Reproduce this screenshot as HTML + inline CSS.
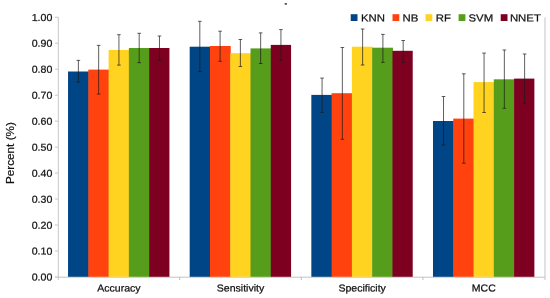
<!DOCTYPE html>
<html><head><meta charset="utf-8"><title>Chart</title>
<style>html,body{margin:0;padding:0;background:#fff}svg{display:block}text{font-family:"Liberation Sans",Arial,sans-serif;fill:#111;stroke:#111;stroke-width:0.25px}</style></head><body>
<svg width="550" height="298" viewBox="0 0 550 298">
<rect width="550" height="298" fill="#fff"/>
<g stroke="#d2d2d2" stroke-width="1.3" fill="none">
<line x1="58.4" y1="17.3" x2="58.4" y2="280.0"/>
<line x1="545.0" y1="17.3" x2="545.0" y2="280.0"/>
<line x1="55.0" y1="277.2" x2="544.9" y2="277.2" stroke="#bcbcbc" stroke-width="0.9"/>
<line x1="55.0" y1="17.30" x2="58.4" y2="17.30"/>
<line x1="55.0" y1="43.27" x2="58.4" y2="43.27"/>
<line x1="55.0" y1="69.24" x2="58.4" y2="69.24"/>
<line x1="55.0" y1="95.21" x2="58.4" y2="95.21"/>
<line x1="55.0" y1="121.18" x2="58.4" y2="121.18"/>
<line x1="55.0" y1="147.15" x2="58.4" y2="147.15"/>
<line x1="55.0" y1="173.12" x2="58.4" y2="173.12"/>
<line x1="55.0" y1="199.09" x2="58.4" y2="199.09"/>
<line x1="55.0" y1="225.06" x2="58.4" y2="225.06"/>
<line x1="55.0" y1="251.03" x2="58.4" y2="251.03"/>
<line x1="55.0" y1="277.00" x2="58.4" y2="277.00"/>
<line x1="179.65" y1="277.0" x2="179.65" y2="280.0" stroke="#bdbdbd" stroke-width="1"/>
<line x1="301.30" y1="277.0" x2="301.30" y2="280.0" stroke="#bdbdbd" stroke-width="1"/>
<line x1="422.95" y1="277.0" x2="422.95" y2="280.0" stroke="#bdbdbd" stroke-width="1"/>
</g>
<rect x="68.04" y="71.5" width="20.78" height="205.30" fill="#004586"/>
<rect x="88.31" y="69.6" width="20.78" height="207.20" fill="#FF420E"/>
<rect x="108.59" y="50.0" width="20.78" height="226.80" fill="#FFD320"/>
<rect x="128.86" y="48.0" width="20.78" height="228.80" fill="#579D1C"/>
<rect x="149.14" y="48.0" width="20.28" height="228.80" fill="#7E0021"/>
<rect x="189.69" y="46.7" width="20.78" height="230.10" fill="#004586"/>
<rect x="209.96" y="46.0" width="20.78" height="230.80" fill="#FF420E"/>
<rect x="230.24" y="53.2" width="20.78" height="223.60" fill="#FFD320"/>
<rect x="250.51" y="48.4" width="20.78" height="228.40" fill="#579D1C"/>
<rect x="270.79" y="44.9" width="20.28" height="231.90" fill="#7E0021"/>
<rect x="311.34" y="94.9" width="20.78" height="181.90" fill="#004586"/>
<rect x="331.61" y="93.2" width="20.78" height="183.60" fill="#FF420E"/>
<rect x="351.89" y="46.7" width="20.78" height="230.10" fill="#FFD320"/>
<rect x="372.16" y="47.7" width="20.78" height="229.10" fill="#579D1C"/>
<rect x="392.44" y="50.8" width="20.28" height="226.00" fill="#7E0021"/>
<rect x="432.99" y="121.0" width="20.78" height="155.80" fill="#004586"/>
<rect x="453.26" y="118.6" width="20.78" height="158.20" fill="#FF420E"/>
<rect x="473.54" y="82.1" width="20.78" height="194.70" fill="#FFD320"/>
<rect x="493.81" y="79.3" width="20.78" height="197.50" fill="#579D1C"/>
<rect x="514.09" y="78.6" width="20.28" height="198.20" fill="#7E0021"/>
<g stroke="#1a1a1a" stroke-width="0.7" fill="none">
<path d="M76.58 60.4H80.17M78.38 60.4V82.1M76.58 82.1H80.17"/>
<path d="M96.85 45.4H100.45M98.65 45.4V94.1M96.85 94.1H100.45"/>
<path d="M117.13 34.7H120.73M118.93 34.7V65.1M117.13 65.1H120.73"/>
<path d="M137.40 33.3H141.00M139.20 33.3V62.7M137.40 62.7H141.00"/>
<path d="M157.67 36.0H161.27M159.47 36.0V60.5M157.67 60.5H161.27"/>
<path d="M198.02 21.3H201.62M199.82 21.3V71.5M198.02 71.5H201.62"/>
<path d="M218.30 31.2H221.90M220.10 31.2V61.3M218.30 61.3H221.90"/>
<path d="M238.57 39.5H242.18M240.38 39.5V66.5M238.57 66.5H242.18"/>
<path d="M258.85 32.9H262.45M260.65 32.9V63.5M258.85 63.5H262.45"/>
<path d="M279.12 29.6H282.73M280.93 29.6V60.2M279.12 60.2H282.73"/>
<path d="M320.27 78.1H323.88M322.07 78.1V112.4M320.27 112.4H323.88"/>
<path d="M340.55 47.5H344.15M342.35 47.5V139.3M340.55 139.3H344.15"/>
<path d="M360.82 29.0H364.43M362.62 29.0V65.0M360.82 65.0H364.43"/>
<path d="M381.10 34.4H384.70M382.90 34.4V62.4M381.10 62.4H384.70"/>
<path d="M401.38 40.5H404.98M403.18 40.5V62.4M401.38 62.4H404.98"/>
<path d="M441.72 96.5H445.32M443.52 96.5V145.0M441.72 145.0H445.32"/>
<path d="M462.00 73.8H465.60M463.80 73.8V163.2M462.00 163.2H465.60"/>
<path d="M482.27 53.1H485.88M484.07 53.1V112.5M482.27 112.5H485.88"/>
<path d="M502.55 50.0H506.15M504.35 50.0V108.3M502.55 108.3H506.15"/>
<path d="M522.83 54.0H526.42M524.62 54.0V103.2M522.83 103.2H526.42"/>
</g>
<text transform="translate(52.3 20.90) rotate(0.03) scale(1 0.96)" font-size="10.6" text-anchor="end">1.00</text>
<text transform="translate(52.3 46.87) rotate(0.03) scale(1 0.96)" font-size="10.6" text-anchor="end">0.90</text>
<text transform="translate(52.3 72.84) rotate(0.03) scale(1 0.96)" font-size="10.6" text-anchor="end">0.80</text>
<text transform="translate(52.3 98.81) rotate(0.03) scale(1 0.96)" font-size="10.6" text-anchor="end">0.70</text>
<text transform="translate(52.3 124.78) rotate(0.03) scale(1 0.96)" font-size="10.6" text-anchor="end">0.60</text>
<text transform="translate(52.3 150.75) rotate(0.03) scale(1 0.96)" font-size="10.6" text-anchor="end">0.50</text>
<text transform="translate(52.3 176.72) rotate(0.03) scale(1 0.96)" font-size="10.6" text-anchor="end">0.40</text>
<text transform="translate(52.3 202.69) rotate(0.03) scale(1 0.96)" font-size="10.6" text-anchor="end">0.30</text>
<text transform="translate(52.3 228.66) rotate(0.03) scale(1 0.96)" font-size="10.6" text-anchor="end">0.20</text>
<text transform="translate(52.3 254.63) rotate(0.03) scale(1 0.96)" font-size="10.6" text-anchor="end">0.10</text>
<text transform="translate(52.3 280.60) rotate(0.03) scale(1 0.96)" font-size="10.6" text-anchor="end">0.00</text>
<text transform="translate(118.91 291.5) rotate(0.03) scale(1 0.96)" font-size="10.55" text-anchor="middle">Accuracy</text>
<text transform="translate(240.54 291.5) rotate(0.03) scale(1 0.96)" font-size="10.55" text-anchor="middle">Sensitivity</text>
<text transform="translate(362.16 291.5) rotate(0.03) scale(1 0.96)" font-size="10.55" text-anchor="middle">Specificity</text>
<text transform="translate(483.79 291.5) rotate(0.03) scale(1 0.96)" font-size="10.55" text-anchor="middle">MCC</text>
<text transform="translate(14.2 153.1) rotate(-90) scale(1.004 0.87)" font-size="11.7" text-anchor="middle">Percent (%)</text>
<rect x="350.7" y="14.2" width="6.8" height="6.8" fill="#004586"/>
<text transform="translate(361.0 21.6) rotate(0.03) scale(1 0.9)" font-size="11.4">KNN</text>
<rect x="392.5" y="14.2" width="6.8" height="6.8" fill="#FF420E"/>
<text transform="translate(402.5 21.6) rotate(0.03) scale(1 0.9)" font-size="11.4">NB</text>
<rect x="425.5" y="14.2" width="6.8" height="6.8" fill="#FFD320"/>
<text transform="translate(435.8 21.6) rotate(0.03) scale(1 0.9)" font-size="11.4">RF</text>
<rect x="458.6" y="14.2" width="6.8" height="6.8" fill="#579D1C"/>
<text transform="translate(468.5 21.6) rotate(0.03) scale(1 0.9)" font-size="11.4">SVM</text>
<rect x="500.7" y="14.2" width="6.8" height="6.8" fill="#7E0021"/>
<text transform="translate(509.9 21.6) rotate(0.03) scale(1 0.9)" font-size="11.4">NNET</text>
<rect x="284.6" y="3.2" width="2.4" height="1.4" fill="#333"/>
</svg></body></html>
